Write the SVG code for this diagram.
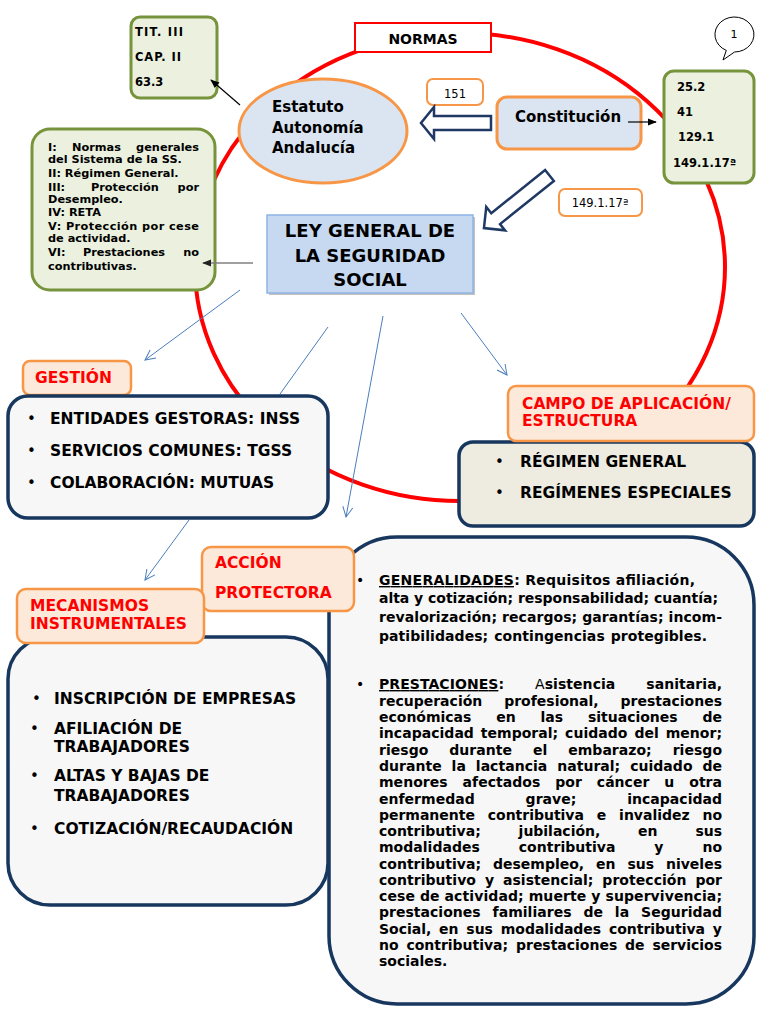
<svg xmlns="http://www.w3.org/2000/svg" width="768" height="1024" viewBox="0 0 768 1024">
<style>
.t{font-family:"DejaVu Sans",Verdana,sans-serif;font-weight:bold;fill:#000}
.n{font-family:"DejaVu Sans",Verdana,sans-serif;font-weight:normal;fill:#000}
.red{fill:#ff0000}
.lbl{fill:#fde9d9;stroke:#f79646;stroke-width:2.5}
.main{fill:#f7f7f7;stroke:#17375e;stroke-width:3.5}
.green{fill:#ebf1de;stroke:#77933c;stroke-width:3}
.blue{fill:#dbe5f1;stroke:#f79646;stroke-width:3}
.num{fill:#fff;stroke:#f79646;stroke-width:2}
.blk{fill:#fff;stroke:#1f3864;stroke-width:2.5;stroke-linejoin:miter}
.e{text-anchor:end}
.m{text-anchor:middle}
.ln{fill:none;stroke:#4a7ebb;stroke-width:1}
.s11{font-size:11.3px}
.s15{font-size:15.5px}
.p{font-size:14px}
</style>
<defs>
<marker id="ab" viewBox="0 0 10 10" refX="9" refY="5" markerWidth="9" markerHeight="9" markerUnits="userSpaceOnUse" orient="auto"><path d="M0,1 L10,5 L0,9 z" fill="#000"/></marker>
<marker id="ag" viewBox="0 0 10 10" refX="9" refY="5" markerWidth="9" markerHeight="9" markerUnits="userSpaceOnUse" orient="auto"><path d="M0,1 L10,5 L0,9 z" fill="#222"/></marker>
<marker id="av" viewBox="0 0 12 12" refX="11" refY="6" markerWidth="12" markerHeight="12" markerUnits="userSpaceOnUse" orient="auto"><path d="M1,1 L11,6 L1,11" fill="none" stroke="#4a7ebb" stroke-width="1"/></marker>
</defs>

<g id="ring">
<ellipse cx="460" cy="267" rx="265" ry="234" fill="none" stroke="#ff0000" stroke-width="4"/>
</g>

<g id="normas">
<rect x="355" y="23" width="136" height="29" fill="#fff" stroke="#ff0000" stroke-width="2"/>
<text class="t m" x="423" y="44" font-size="14">NORMAS</text>
</g>

<g id="nota-1">
<path d="M734.5,52 A19.5,17.5 0 1 0 726.3,50.4 L723,60 Z" fill="#fff" stroke="#000" stroke-width="1"/>
<text class="n m" x="734" y="38" font-size="11">1</text>
</g>

<g id="tit-cap">
<rect x="131" y="17" width="86" height="81" rx="9" class="green"/>
<text class="t" font-size="11.5" x="135" y="36" textLength="48" lengthAdjust="spacing">TIT. III</text>
<text class="t" font-size="11.5" x="135" y="61" textLength="46" lengthAdjust="spacing">CAP. II</text>
<text class="t" font-size="11.5" x="135" y="86">63.3</text>
</g>

<g id="estatuto">
<ellipse cx="323" cy="131" rx="84" ry="52" class="blue"/>
<text class="t" font-size="15"><tspan x="272" y="112">Estatuto</tspan><tspan x="272" y="133">Autonomía</tspan><tspan x="272" y="153">Andalucía</tspan></text>
</g>

<g id="titulos-lgss">
<rect x="32" y="129" width="183" height="161" rx="18" class="green"/>
<text class="t s11"><tspan x="48" y="151">I:</tspan><tspan x="72" y="151">Normas</tspan></text>
<text class="t s11 e" x="199" y="151">generales</text>
<text class="t s11" x="48" y="163">del Sistema de la SS.</text>
<text class="t s11" x="48" y="177">II: Régimen General.</text>
<text class="t s11"><tspan x="48" y="191">III:</tspan><tspan x="91" y="191">Protección</tspan></text>
<text class="t s11 e" x="199" y="191">por</text>
<text class="t s11" x="48" y="203">Desempleo.</text>
<text class="t s11" x="48" y="216">IV: RETA</text>
<text class="t s11" x="48" y="230" textLength="151" lengthAdjust="spacing">V: Protección por cese</text>
<text class="t s11" x="48" y="242">de actividad.</text>
<text class="t s11"><tspan x="48" y="256">VI:</tspan><tspan x="83" y="256">Prestaciones</tspan></text>
<text class="t s11 e" x="199" y="256">no</text>
<text class="t s11" x="48" y="270">contributivas.</text>
</g>

<g id="art-151">
<rect x="427" y="79" width="56" height="26" rx="6" class="num"/>
<text class="n m" x="455" y="98" font-size="11.5">151</text>
</g>

<g id="constitucion">
<rect x="497" y="97" width="144" height="52" rx="10" class="blue"/>
<text class="t" x="515" y="122" font-size="15">Constitución</text>
</g>

<g id="articulos-ce">
<rect x="664" y="71" width="90" height="112" rx="10" class="green"/>
<text class="t" font-size="11.5"><tspan x="677" y="91">25.2</tspan><tspan x="677" y="116">41</tspan><tspan x="678" y="141">129.1</tspan><tspan x="673" y="167">149.1.17ª</tspan></text>
</g>

<g id="art-149">
<rect x="559" y="189" width="83" height="27" rx="6" class="num"/>
<text class="n m" x="600" y="207" font-size="11.5">149.1.17ª</text>
</g>

<g id="lgss">
<rect x="269" y="217" width="206" height="78" fill="#9a9a9a" opacity="0.6"/>
<rect x="267" y="215" width="206" height="78" fill="#c6d9f1" stroke="#8eb4e3" stroke-width="1.5"/>
<text class="t m" font-size="18"><tspan x="370" y="237">LEY GENERAL DE</tspan><tspan x="370" y="262">LA SEGURIDAD</tspan><tspan x="370" y="286">SOCIAL</tspan></text>
</g>

<g id="gestion">
<rect x="23" y="361" width="108" height="34" rx="7" class="lbl"/>
<text class="t s15 red" x="35" y="383">GESTIÓN</text>
<rect x="8" y="396" width="320" height="122" rx="20" class="main"/>
<text class="n" font-size="15"><tspan x="27" y="424">•</tspan><tspan x="27" y="456">•</tspan><tspan x="27" y="488">•</tspan></text>
<text class="t s15"><tspan x="50" y="424">ENTIDADES GESTORAS: INSS</tspan><tspan x="50" y="456">SERVICIOS COMUNES: TGSS</tspan><tspan x="50" y="488">COLABORACIÓN: MUTUAS</tspan></text>
</g>

<g id="campo-aplicacion">
<rect x="459" y="442" width="295" height="84" rx="14" fill="#eeece1" stroke="#17375e" stroke-width="3.5"/>
<rect x="508" y="386" width="246" height="55" rx="8" class="lbl"/>
<text class="t s15 red"><tspan x="522" y="409">CAMPO DE APLICACIÓN/</tspan><tspan x="522" y="426">ESTRUCTURA</tspan></text>
<text class="n" font-size="15"><tspan x="495" y="467">•</tspan><tspan x="495" y="498">•</tspan></text>
<text class="t s15"><tspan x="520" y="467">RÉGIMEN GENERAL</tspan><tspan x="520" y="498">REGÍMENES ESPECIALES</tspan></text>
</g>

<g id="accion-protectora">
<rect x="329" y="537" width="425" height="467" rx="68" class="main"/>
<text class="n" font-size="14"><tspan x="356" y="585">•</tspan><tspan x="356" y="689">•</tspan></text>
<text class="t p" x="379" y="585" textLength="316" lengthAdjust="spacing"><tspan text-decoration="underline">GENERALIDADES</tspan>: Requisitos afiliación,</text>
<text class="t p" x="379" y="603" textLength="339" lengthAdjust="spacing">alta y cotización; responsabilidad; cuantía;</text>
<text class="t p" x="379" y="622" textLength="343" lengthAdjust="spacing">revalorización; recargos; garantías; incom-</text>
<text class="t p" x="379" y="641" textLength="328" lengthAdjust="spacing" style="word-spacing:1px">patibilidades; contingencias protegibles.</text>
<text class="t p" x="379" y="689" textLength="343" lengthAdjust="spacing" style="word-spacing:26px"><tspan text-decoration="underline">PRESTACIONES</tspan>: <tspan font-weight="normal">A</tspan>sistencia sanitaria,</text>
<text class="t p" x="379" y="706" textLength="343" lengthAdjust="spacing" style="word-spacing:17px">recuperación profesional, prestaciones</text>
<text class="t p" x="379" y="722" textLength="343" lengthAdjust="spacing" style="word-spacing:20px">económicas en las situaciones de</text>
<text class="t p" x="379" y="738" textLength="343" lengthAdjust="spacing" style="word-spacing:2px">incapacidad temporal; cuidado del menor;</text>
<text class="t p" x="379" y="755" textLength="343" lengthAdjust="spacing" style="word-spacing:16px">riesgo durante el embarazo; riesgo</text>
<text class="t p" x="379" y="771" textLength="343" lengthAdjust="spacing" style="word-spacing:5px">durante la lactancia natural; cuidado de</text>
<text class="t p" x="379" y="787" textLength="343" lengthAdjust="spacing" style="word-spacing:10px">menores afectados por cáncer u otra</text>
<text class="t p" x="379" y="804" textLength="343" lengthAdjust="spacing" style="word-spacing:46px">enfermedad grave; incapacidad</text>
<text class="t p" x="379" y="820" textLength="343" lengthAdjust="spacing" style="word-spacing:8px">permanente contributiva e invalidez no</text>
<text class="t p" x="379" y="836" textLength="343" lengthAdjust="spacing" style="word-spacing:33px">contributiva; jubilación, en sus</text>
<text class="t p" x="379" y="852" textLength="343" lengthAdjust="spacing" style="word-spacing:34px">modalidades contributiva y no</text>
<text class="t p" x="379" y="869" textLength="343" lengthAdjust="spacing" style="word-spacing:7px">contributiva; desempleo, en sus niveles</text>
<text class="t p" x="379" y="885" textLength="343" lengthAdjust="spacing" style="word-spacing:4px">contributivo y asistencial; protección por</text>
<text class="t p" x="379" y="901" textLength="343" lengthAdjust="spacing">cese de actividad; muerte y supervivencia;</text>
<text class="t p" x="379" y="917" textLength="343" lengthAdjust="spacing" style="word-spacing:7px">prestaciones familiares de la Seguridad</text>
<text class="t p" x="379" y="934" textLength="343" lengthAdjust="spacing" style="word-spacing:3px">Social, en sus modalidades contributiva y</text>
<text class="t p" x="379" y="950" textLength="343" lengthAdjust="spacing" style="word-spacing:3px">no contributiva; prestaciones de servicios</text>
<text class="t p" x="379" y="966">sociales.</text>
<rect x="202" y="547" width="152" height="64" rx="9" class="lbl"/>
<text class="t s15 red"><tspan x="215" y="568">ACCIÓN</tspan><tspan x="215" y="598">PROTECTORA</tspan></text>
</g>

<g id="mecanismos">
<rect x="8" y="637" width="320" height="268" rx="42" class="main"/>
<rect x="17" y="589" width="187" height="54" rx="9" class="lbl"/>
<text class="t s15 red"><tspan x="30" y="611">MECANISMOS</tspan><tspan x="30" y="629">INSTRUMENTALES</tspan></text>
<text class="n" font-size="15"><tspan x="32" y="704">•</tspan><tspan x="30" y="734">•</tspan><tspan x="30" y="781">•</tspan><tspan x="30" y="834">•</tspan></text>
<text class="t s15"><tspan x="54" y="704">INSCRIPCIÓN DE EMPRESAS</tspan><tspan x="54" y="734">AFILIACIÓN DE</tspan><tspan x="54" y="752">TRABAJADORES</tspan><tspan x="54" y="781">ALTAS Y BAJAS DE</tspan><tspan x="54" y="801">TRABAJADORES</tspan><tspan x="54" y="834">COTIZACIÓN/RECAUDACIÓN</tspan></text>
</g>

<g id="connectors">
<line x1="240" y1="105" x2="211" y2="80" stroke="#000" stroke-width="1.2" marker-end="url(#ab)"/>
<line x1="628" y1="122" x2="656" y2="122" stroke="#000" stroke-width="1.2" marker-end="url(#ab)"/>
<line x1="253" y1="263" x2="203" y2="263" stroke="#808080" stroke-width="1.5" marker-end="url(#ag)"/>
<line class="ln" x1="240" y1="290" x2="145" y2="360" marker-end="url(#av)"/>
<line class="ln" x1="328" y1="327" x2="280" y2="394"/>
<line class="ln" x1="189" y1="520" x2="145" y2="580" marker-end="url(#av)"/>
<line class="ln" x1="383" y1="316" x2="346" y2="517" marker-end="url(#av)"/>
<line class="ln" x1="461" y1="313" x2="507" y2="375" marker-end="url(#av)"/>
<polygon class="blk" points="491,116 434,116 434,107 421,123 434,139 434,130 491,130"/>
<polygon class="blk" transform="translate(549.5,175.5) rotate(141.3)" points="0,-7 69,-7 69,-15 84,0 69,15 69,7 0,7"/>
</g>
</svg>
